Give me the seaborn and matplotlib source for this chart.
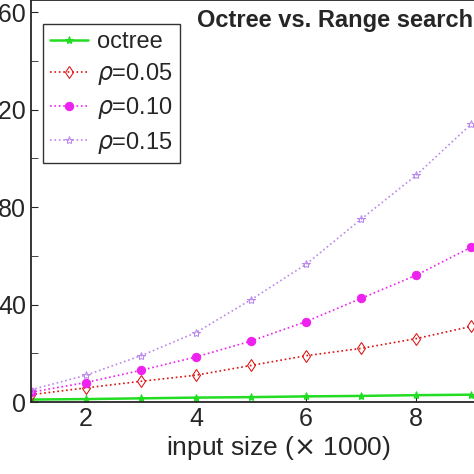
import matplotlib
matplotlib.use("Agg")
import matplotlib.pyplot as plt
import seaborn as sns
import pandas as pd

sns.set_style("ticks")
plt.rcParams['font.family'] = ['Liberation Sans', 'DejaVu Sans']

x = [1, 2, 3, 4, 5, 6, 7, 8, 9]
octree = [1, 1.2, 1.5, 1.8, 2, 2.3, 2.5, 2.8, 3]
rho05 = [3, 5.8, 8.5, 11, 15, 19, 22, 26, 31]
rho10 = [4, 8, 13, 18.5, 25, 33, 42.5, 52, 63.5]
rho15 = [5, 11, 19, 28.5, 42, 56.5, 75, 93, 114]
labels = ["octree", r"$\rho$=0.05", r"$\rho$=0.10", r"$\rho$=0.15"]

fig = plt.figure(figsize=(4.74, 4.74), dpi=100)
ax = fig.add_axes([31/474, 72/474, 495/474, 402/474])

styles = [
    (octree, "#22dd22", "*", "-", "#22dd22", 1.8),
    (rho05, "#dd1111", "d", ":", "none", 1.2),
    (rho10, "#ee22ee", "o", ":", "#ee22ee", 1.2),
    (rho15, "#bb88ee", "*", ":", "none", 1.2),
]
for (vals, c, m, ls, mfc, lw), lab in zip(styles, labels):
    df = pd.DataFrame({"x": x, "y": vals})
    sns.lineplot(data=df, x="x", y="y", ax=ax, color=c, marker=m, linestyle=ls,
                 markerfacecolor=mfc, markeredgecolor=c, markersize=6, lw=lw, label=lab)

ax.set_xlim(1, 10)
ax.set_ylim(0, 165)
ax.set_xticks([2, 4, 6, 8, 10])
ax.set_yticks([0, 40, 80, 120, 160])
ax.set_yticks([20, 60, 100, 140], minor=True)
ax.set_yticklabels(["0", "40", "80", "120", "160"])
ax.tick_params(labelsize=18, direction="in", length=5)
ax.tick_params(which="minor", direction="in", length=5)
ax.set_xlabel(r"input size ($\times$ 1000)", fontsize=19, labelpad=2)
ax.set_ylabel("")
for s in ax.spines.values():
    s.set_linewidth(1.3)
leg = ax.legend(loc="upper left", fontsize=17, frameon=True, fancybox=False,
                edgecolor="black", handlelength=1.6, borderpad=0.3, labelspacing=0.35,
                handletextpad=0.4, bbox_to_anchor=(0.0, 0.97))
fig.text(197/474, 1-20/474, "Octree vs. Range search", fontsize=17, fontweight="bold", va="center")
fig.savefig("out.png", dpi=100)
